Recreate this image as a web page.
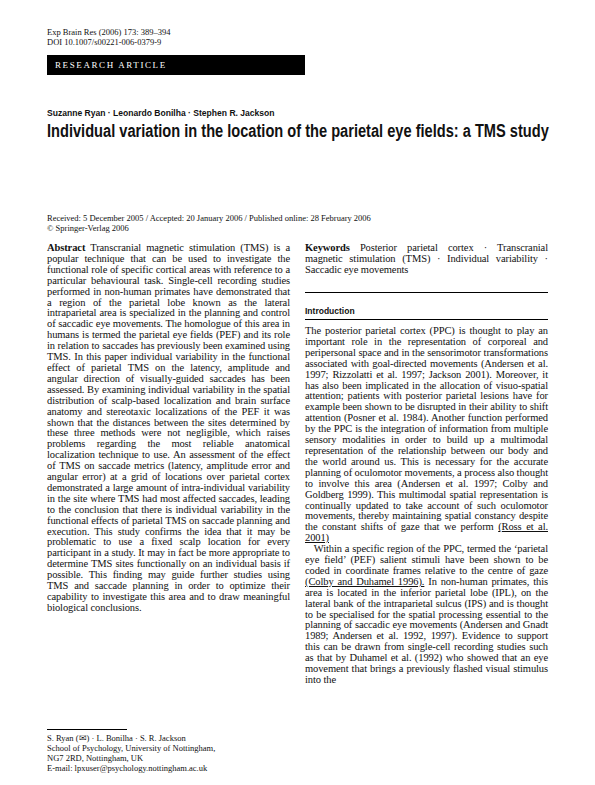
<!DOCTYPE html>
<html><head><meta charset="utf-8">
<script src="https://cdn.jsdelivr.net/npm/chart.js@4"></script>
<style>
body{margin:0;width:595px;height:785px;background:#fff;font-family:"Liberation Serif","Times New Roman",serif;color:#111;position:relative;overflow:hidden}
.a{position:absolute}
.hd{font-size:8.5px;line-height:10px;left:47px;top:27px}
.bar{left:47px;top:55px;width:258px;height:20px;background:#000;color:#fff;font-size:9px;letter-spacing:1.6px;line-height:20px;padding-left:8px;box-sizing:border-box}
.au{left:47px;top:107px;font-family:"Liberation Sans Narrow","Liberation Sans",sans-serif;font-weight:bold;font-size:9.5px;transform:scaleX(0.9);transform-origin:left}
.ti{left:47px;top:121px;font-family:"Liberation Sans Narrow","Liberation Sans",sans-serif;font-weight:bold;font-size:17.5px;white-space:nowrap;transform:scaleX(0.835);transform-origin:left}
.rc{left:47px;top:213px;font-size:8.5px;line-height:10px}
.col{font-size:10.5px;line-height:10.9px;text-align:justify;hyphens:auto;letter-spacing:-0.1px}
.l{left:47px;top:243px;width:243px}
.r{left:305px;top:243px;width:243px}
a{color:#111;text-decoration:none}
.u{text-decoration:underline}
hr{border:0;border-top:0.8px solid #000;margin:0}
.fn{left:47px;top:733px;font-size:8.5px;line-height:10px}
</style></head><body>
<div class="a hd">Exp Brain Res (2006) 173: 389–394<br>DOI 10.1007/s00221-006-0379-9</div>
<div class="a bar">RESEARCH ARTICLE</div>
<div class="a au">Suzanne Ryan · Leonardo Bonilha · Stephen R. Jackson</div>
<div class="a ti">Individual variation in the location of the parietal eye fields: a TMS study</div>
<div class="a rc">Received: 5 December 2005 / Accepted: 20 January 2006 / Published online: 28 February 2006<br>© Springer-Verlag 2006</div>
<div class="a col l"><b>Abstract</b> Transcranial magnetic stimulation (TMS) is a popular technique that can be used to investigate the functional role of specific cortical areas with reference to a particular behavioural task. Single-cell recording studies performed in non-human primates have demonstrated that a region of the parietal lobe known as the lateral intraparietal area is specialized in the planning and control of saccadic eye movements. The homologue of this area in humans is termed the parietal eye fields (PEF) and its role in relation to saccades has previously been examined using TMS. In this paper individual variability in the functional effect of parietal TMS on the latency, amplitude and angular direction of visually-guided saccades has been assessed. By examining individual variability in the spatial distribution of scalp-based localization and brain surface anatomy and stereotaxic localizations of the PEF it was shown that the distances between the sites determined by these three methods were not negligible, which raises problems regarding the most reliable anatomical localization technique to use. An assessment of the effect of TMS on saccade metrics (latency, amplitude error and angular error) at a grid of locations over parietal cortex demonstrated a large amount of intra-individual variability in the site where TMS had most affected saccades, leading to the conclusion that there is individual variability in the functional effects of parietal TMS on saccade planning and execution. This study confirms the idea that it may be problematic to use a fixed scalp location for every participant in a study. It may in fact be more appropriate to determine TMS sites functionally on an individual basis if possible. This finding may guide further studies using TMS and saccade planning in order to optimize their capability to investigate this area and to draw meaningful biological conclusions.</div>
<div class="a" style="left:47px;top:729px;width:80px"><hr></div>
<div class="a fn">S. Ryan (✉) · L. Bonilha · S. R. Jackson<br>School of Psychology, University of Nottingham,<br>NG7 2RD, Nottingham, UK<br>E-mail: lpxuser@psychology.nottingham.ac.uk</div>
<div class="a col r"><b>Keywords</b> Posterior parietal cortex · Transcranial magnetic stimulation (TMS) · Individual variability · Saccadic eye movements</div>
<div class="a" style="left:305px;top:292px;width:243px"><hr></div>
<div class="a" style="left:305px;top:306px;font-family:'Liberation Sans',sans-serif;font-weight:bold;font-size:8.5px">Introduction</div>
<div class="a" style="left:305px;top:319px;width:243px"><hr></div>
<div class="a col" style="left:305px;top:326px;width:243px">The posterior parietal cortex (PPC) is thought to play an important role in the representation of corporeal and peripersonal space and in the sensorimotor transformations associated with goal-directed movements (Andersen et al. <a>1997</a>; Rizzolatti et al. <a>1997</a>; Jackson <a>2001</a>). Moreover, it has also been implicated in the allocation of visuo-spatial attention; patients with posterior parietal lesions have for example been shown to be disrupted in their ability to shift attention (Posner et al. <a>1984</a>). Another function performed by the PPC is the integration of information from multiple sensory modalities in order to build up a multimodal representation of the relationship between our body and the world around us. This is necessary for the accurate planning of oculomotor movements, a process also thought to involve this area (Andersen et al. <a>1997</a>; Colby and Goldberg <a>1999</a>). This multimodal spatial representation is continually updated to take account of such oculomotor movements, thereby maintaining spatial constancy despite the constant shifts of gaze that we perform <span class="u">(Ross et al. 2001)</span><br>&nbsp;&nbsp;&nbsp;Within a specific region of the PPC, termed the ‘parietal eye field’ (PEF) salient stimuli have been shown to be coded in coordinate frames relative to the centre of gaze <span class="u">(Colby and Duhamel 1996).</span> In non-human primates, this area is located in the inferior parietal lobe (IPL), on the lateral bank of the intraparietal sulcus (IPS) and is thought to be specialised for the spatial processing essential to the planning of saccadic eye movements (Andersen and Gnadt <a>1989</a>; Andersen et al. <a>1992</a>, <a>1997</a>). Evidence to support this can be drawn from single-cell recording studies such as that by Duhamel et al. (<a>1992</a>) who showed that an eye movement that brings a previously flashed visual stimulus into the</div>
</body></html>
